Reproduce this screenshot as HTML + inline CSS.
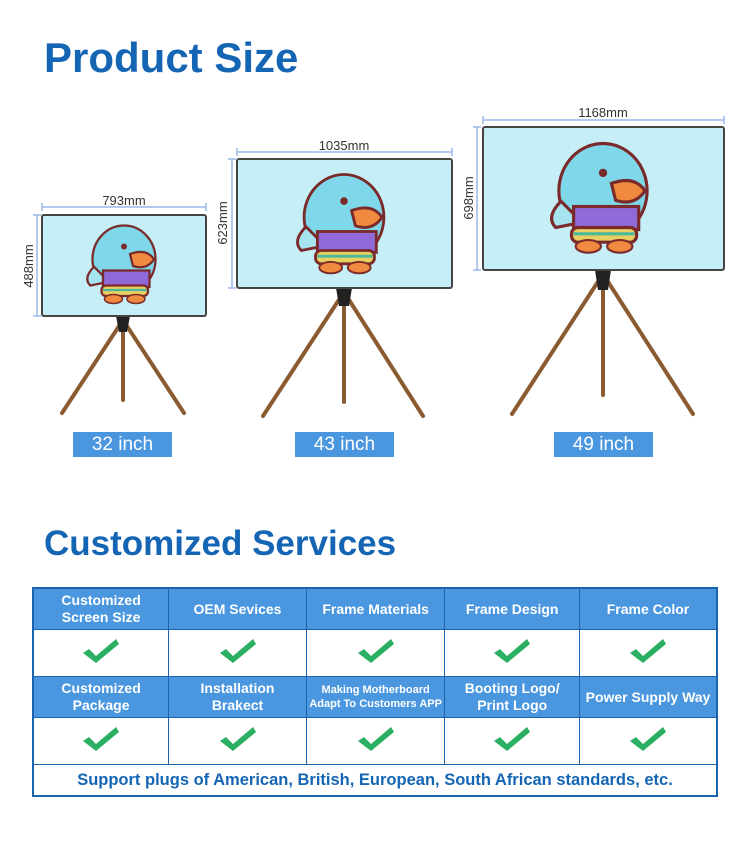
<!DOCTYPE html>
<html><head><meta charset="utf-8"><style>
body{margin:0;width:750px;height:842px;background:#fff;overflow:hidden;font-family:"Liberation Sans",sans-serif}
h1{position:absolute;margin:0;color:#1565b5;font-weight:bold;font-size:42px;left:44px}
.lbl{position:absolute;background:#4a97e0;color:#fff;font-size:19px;text-align:center;height:25px;line-height:25px;width:99px;top:432px}
table{position:absolute;left:32px;top:587px;width:686px;border-collapse:collapse;border:2px solid #1a63b0}
td{border:1.5px solid #1a63b0;text-align:center;padding:0}
.h td{background:#4a97e0;color:#fff;font-weight:bold;font-size:14px;line-height:17px;height:40px}
.c td{height:46px}
.f td{height:30px;color:#1565b5;font-weight:bold;font-size:16.5px}
</style></head><body>
<h1 style="top:34px">Product Size</h1>
<h1 style="top:524px;font-size:35px">Customized Services</h1>
<svg width="750" height="470" style="position:absolute;left:0;top:0">
<defs>
<g id="duck">
<ellipse cx="0" cy="-5" rx="42" ry="45" fill="#7fd8ea" stroke="#7a2a2a" stroke-width="3"/>
<path d="M-40 5 Q-55 20 -45 30 L-20 25 Z" fill="#a6e4f0" stroke="#7a2a2a" stroke-width="3"/>
<rect x="-28" y="10" width="62" height="22" fill="#8f6ad8" stroke="#7a2a2a" stroke-width="3"/>
<rect x="-30" y="30" width="62" height="14" rx="6" fill="#e8d060" stroke="#7a2a2a" stroke-width="3"/>
<line x1="-28" y1="36" x2="30" y2="36" stroke="#4ab89a" stroke-width="3"/>
<ellipse cx="-14" cy="48" rx="12" ry="6" fill="#f08a40" stroke="#7a2a2a" stroke-width="2"/>
<ellipse cx="16" cy="48" rx="12" ry="6" fill="#f08a40" stroke="#7a2a2a" stroke-width="2"/>
<path d="M8 -12 Q30 -20 40 -5 Q30 10 12 4 Z" fill="#f08a40" stroke="#7a2a2a" stroke-width="3"/>
<circle cx="0" cy="-22" r="4" fill="#7a2a2a"/>
</g>
</defs>
<g stroke="#9ab8e8" stroke-width="1.5" fill="none">
<path d="M42 207H206M42 203V211M206 203V211M37 215V316M33 215H41M33 316H41"/>
<path d="M237 152H452M237 148V156M452 148V156M232 159V288M228 159H236M228 288H236"/>
<path d="M483 120H724M483 116V124M724 116V124M477 127V270M473 127H481M473 270H481"/>
</g>
<g font-size="13" fill="#333" text-anchor="middle">
<text x="124" y="205">793mm</text><text x="344" y="150">1035mm</text><text x="603" y="117">1168mm</text>
<text transform="translate(33,266) rotate(-90)">488mm</text>
<text transform="translate(227,223) rotate(-90)">623mm</text>
<text transform="translate(473,198) rotate(-90)">698mm</text>
</g>
<g stroke="#8a5a30" stroke-width="4" stroke-linecap="round">
<path d="M123 320L62 413M123 320V400M123 320L184 413"/>
<path d="M344 292L263 416M344 292V402M344 292L423 416"/>
<path d="M603 274L512 414M603 274V395M603 274L693 414"/>
</g>
<path d="M116 316h14l-3 16h-8z" fill="#222"/>
<path d="M336 288h16l-3 18h-10z" fill="#222"/>
<path d="M595 270h16l-3 20h-10z" fill="#222"/>
<rect x="42" y="215" width="164" height="101" fill="#c6eef6" stroke="#444" stroke-width="2" rx="2"/>
<rect x="237" y="159" width="215" height="129" fill="#c6eef6" stroke="#444" stroke-width="2" rx="2"/>
<rect x="483" y="127" width="241" height="143" fill="#c6eef6" stroke="#444" stroke-width="2" rx="2"/>
<use href="#duck" transform="translate(124,263) scale(0.75)"/>
<use href="#duck" transform="translate(344,222) scale(0.95)"/>
<use href="#duck" transform="translate(603,196) scale(1.05)"/>
</svg>
<div class="lbl" style="left:73px">32 inch</div>
<div class="lbl" style="left:295px">43 inch</div>
<div class="lbl" style="left:554px">49 inch</div>
<table>
<colgroup><col style="width:136px"><col style="width:138px"><col style="width:139px"><col style="width:135px"><col style="width:138px"></colgroup>
<tr class="h"><td>Customized<br>Screen Size</td><td>OEM Sevices</td><td>Frame Materials</td><td>Frame Design</td><td>Frame Color</td></tr>
<tr class="c"><td>CK</td><td>CK</td><td>CK</td><td>CK</td><td>CK</td></tr>
<tr class="h"><td>Customized<br>Package</td><td>Installation<br>Brakect</td><td style="font-size:11px;line-height:14px">Making Motherboard<br>Adapt To Customers APP</td><td>Booting Logo/<br>Print Logo</td><td>Power Supply Way</td></tr>
<tr class="c"><td>CK</td><td>CK</td><td>CK</td><td>CK</td><td>CK</td></tr>
<tr class="f"><td colspan="5">Support plugs of American, British, European, South African standards, etc.</td></tr>
</table>
<script>
document.querySelectorAll('.c td').forEach(t=>{t.innerHTML='<svg width="40" height="28" viewBox="0 0 40 28"><path d="M2 16L8 12L15 19L35 2L38 7L15 26Z" fill="#2bb063"/></svg>'});
</script>
</body></html>
